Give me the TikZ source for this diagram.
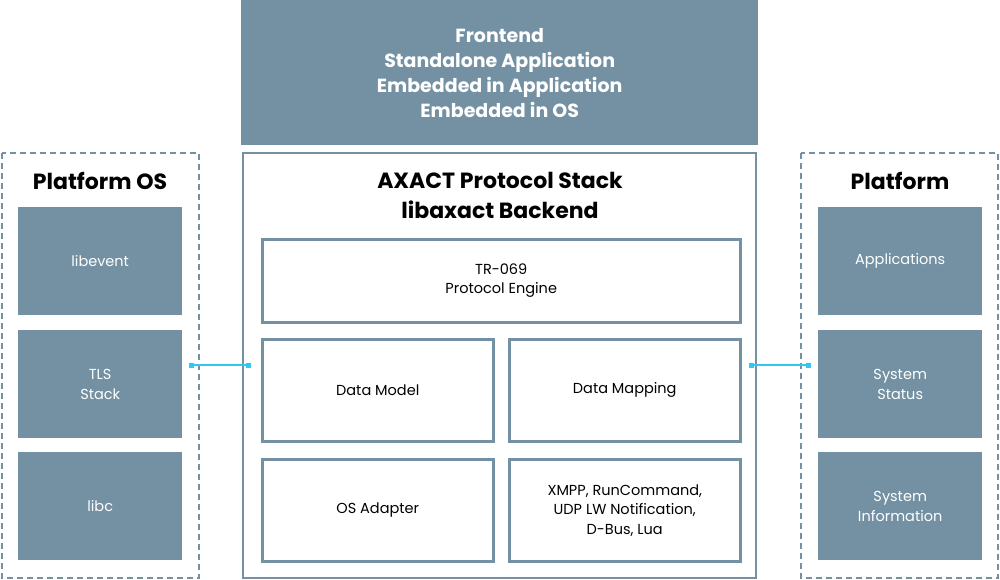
\documentclass[tikz,border=0pt]{standalone}
\usepackage{fontspec}
\setmainfont{Poppins}
\begin{document}
\begin{tikzpicture}[x=1pt,y=-1pt,
  fillbox/.style={fill=slate,draw=none,text=white,align=center,font=\fontsize{14.5}{19.5}\selectfont},
  inbox/.style={draw=slate,line width=2.5pt,fill=white,align=center,font=\fontsize{14.5}{19.5}\selectfont},
  grp/.style={draw=slate,line width=2pt,dash pattern=on 6pt off 4pt},
  conn/.style={draw=linkc,line width=1.3pt},
  dotc/.style={fill=linkc,minimum size=5pt,inner sep=0pt}]
\definecolor{slate}{HTML}{7391A3}
\definecolor{linkc}{HTML}{2EC8F5}
\useasboundingbox (0,0) rectangle (1000,580);
% top
\node[fillbox,minimum width=517pt,minimum height=145pt,anchor=north west,font=\bfseries\fontsize{19}{25}\selectfont] (front) at (241,0) {Frontend\\Standalone Application\\Embedded in Application\\Embedded in OS};
% center
\draw[draw=slate,line width=2.5pt] (243,153) rectangle (756,578);
\node[align=center,font=\bfseries\fontsize{22}{30}\selectfont] (title) at (500,195) {AXACT Protocol Stack\\libaxact Backend};
\node[inbox,minimum width=478pt,minimum height=83pt,anchor=north west] (tr) at (261,238) {TR-069\\Protocol Engine};
\node[inbox,minimum width=231pt,minimum height=102pt,anchor=north west] (dm) at (261,338) {Data Model};
\node[inbox,minimum width=231pt,minimum height=102pt,anchor=north west] (dmap) at (508,338) {Data Mapping};
\node[inbox,minimum width=231pt,minimum height=102pt,anchor=north west] (osa) at (261,458) {OS Adapter};
\node[inbox,minimum width=231pt,minimum height=102pt,anchor=north west] (xm) at (508,458) {XMPP, RunCommand,\\UDP LW Notification,\\D-Bus, Lua};
\coordinate (cl) at (248,365);
\coordinate (cr) at (751,365);
% left group
\draw[grp] (2,153) rectangle (199,578);
\node[font=\bfseries\fontsize{22}{28}\selectfont] (pos) at (100,181) {Platform OS};
\node[fillbox,minimum width=164pt,minimum height=108pt,anchor=north west] (le) at (18,207) {libevent};
\node[fillbox,minimum width=164pt,minimum height=108pt,anchor=north west] (tls) at (18,330) {TLS\\Stack};
\node[fillbox,minimum width=164pt,minimum height=108pt,anchor=north west] (libc) at (18,452) {libc};
\coordinate (gl) at (191,365);
% right group
\draw[grp] (801,153) rectangle (998,578);
\node[font=\bfseries\fontsize{22}{28}\selectfont] (pl) at (900,181) {Platform};
\node[fillbox,minimum width=164pt,minimum height=108pt,anchor=north west] (app) at (818,207) {Applications};
\node[fillbox,minimum width=164pt,minimum height=108pt,anchor=north west] (ss) at (818,330) {System\\Status};
\node[fillbox,minimum width=164pt,minimum height=108pt,anchor=north west] (si) at (818,452) {System\\Information};
\coordinate (gr) at (808,365);
% connectors
\draw[conn] (gl) -- (cl);
\draw[conn] (cr) -- (gr);
\foreach \p in {gl,cl,cr,gr} \node[dotc] at (\p) {};
\end{tikzpicture}
\end{document}
